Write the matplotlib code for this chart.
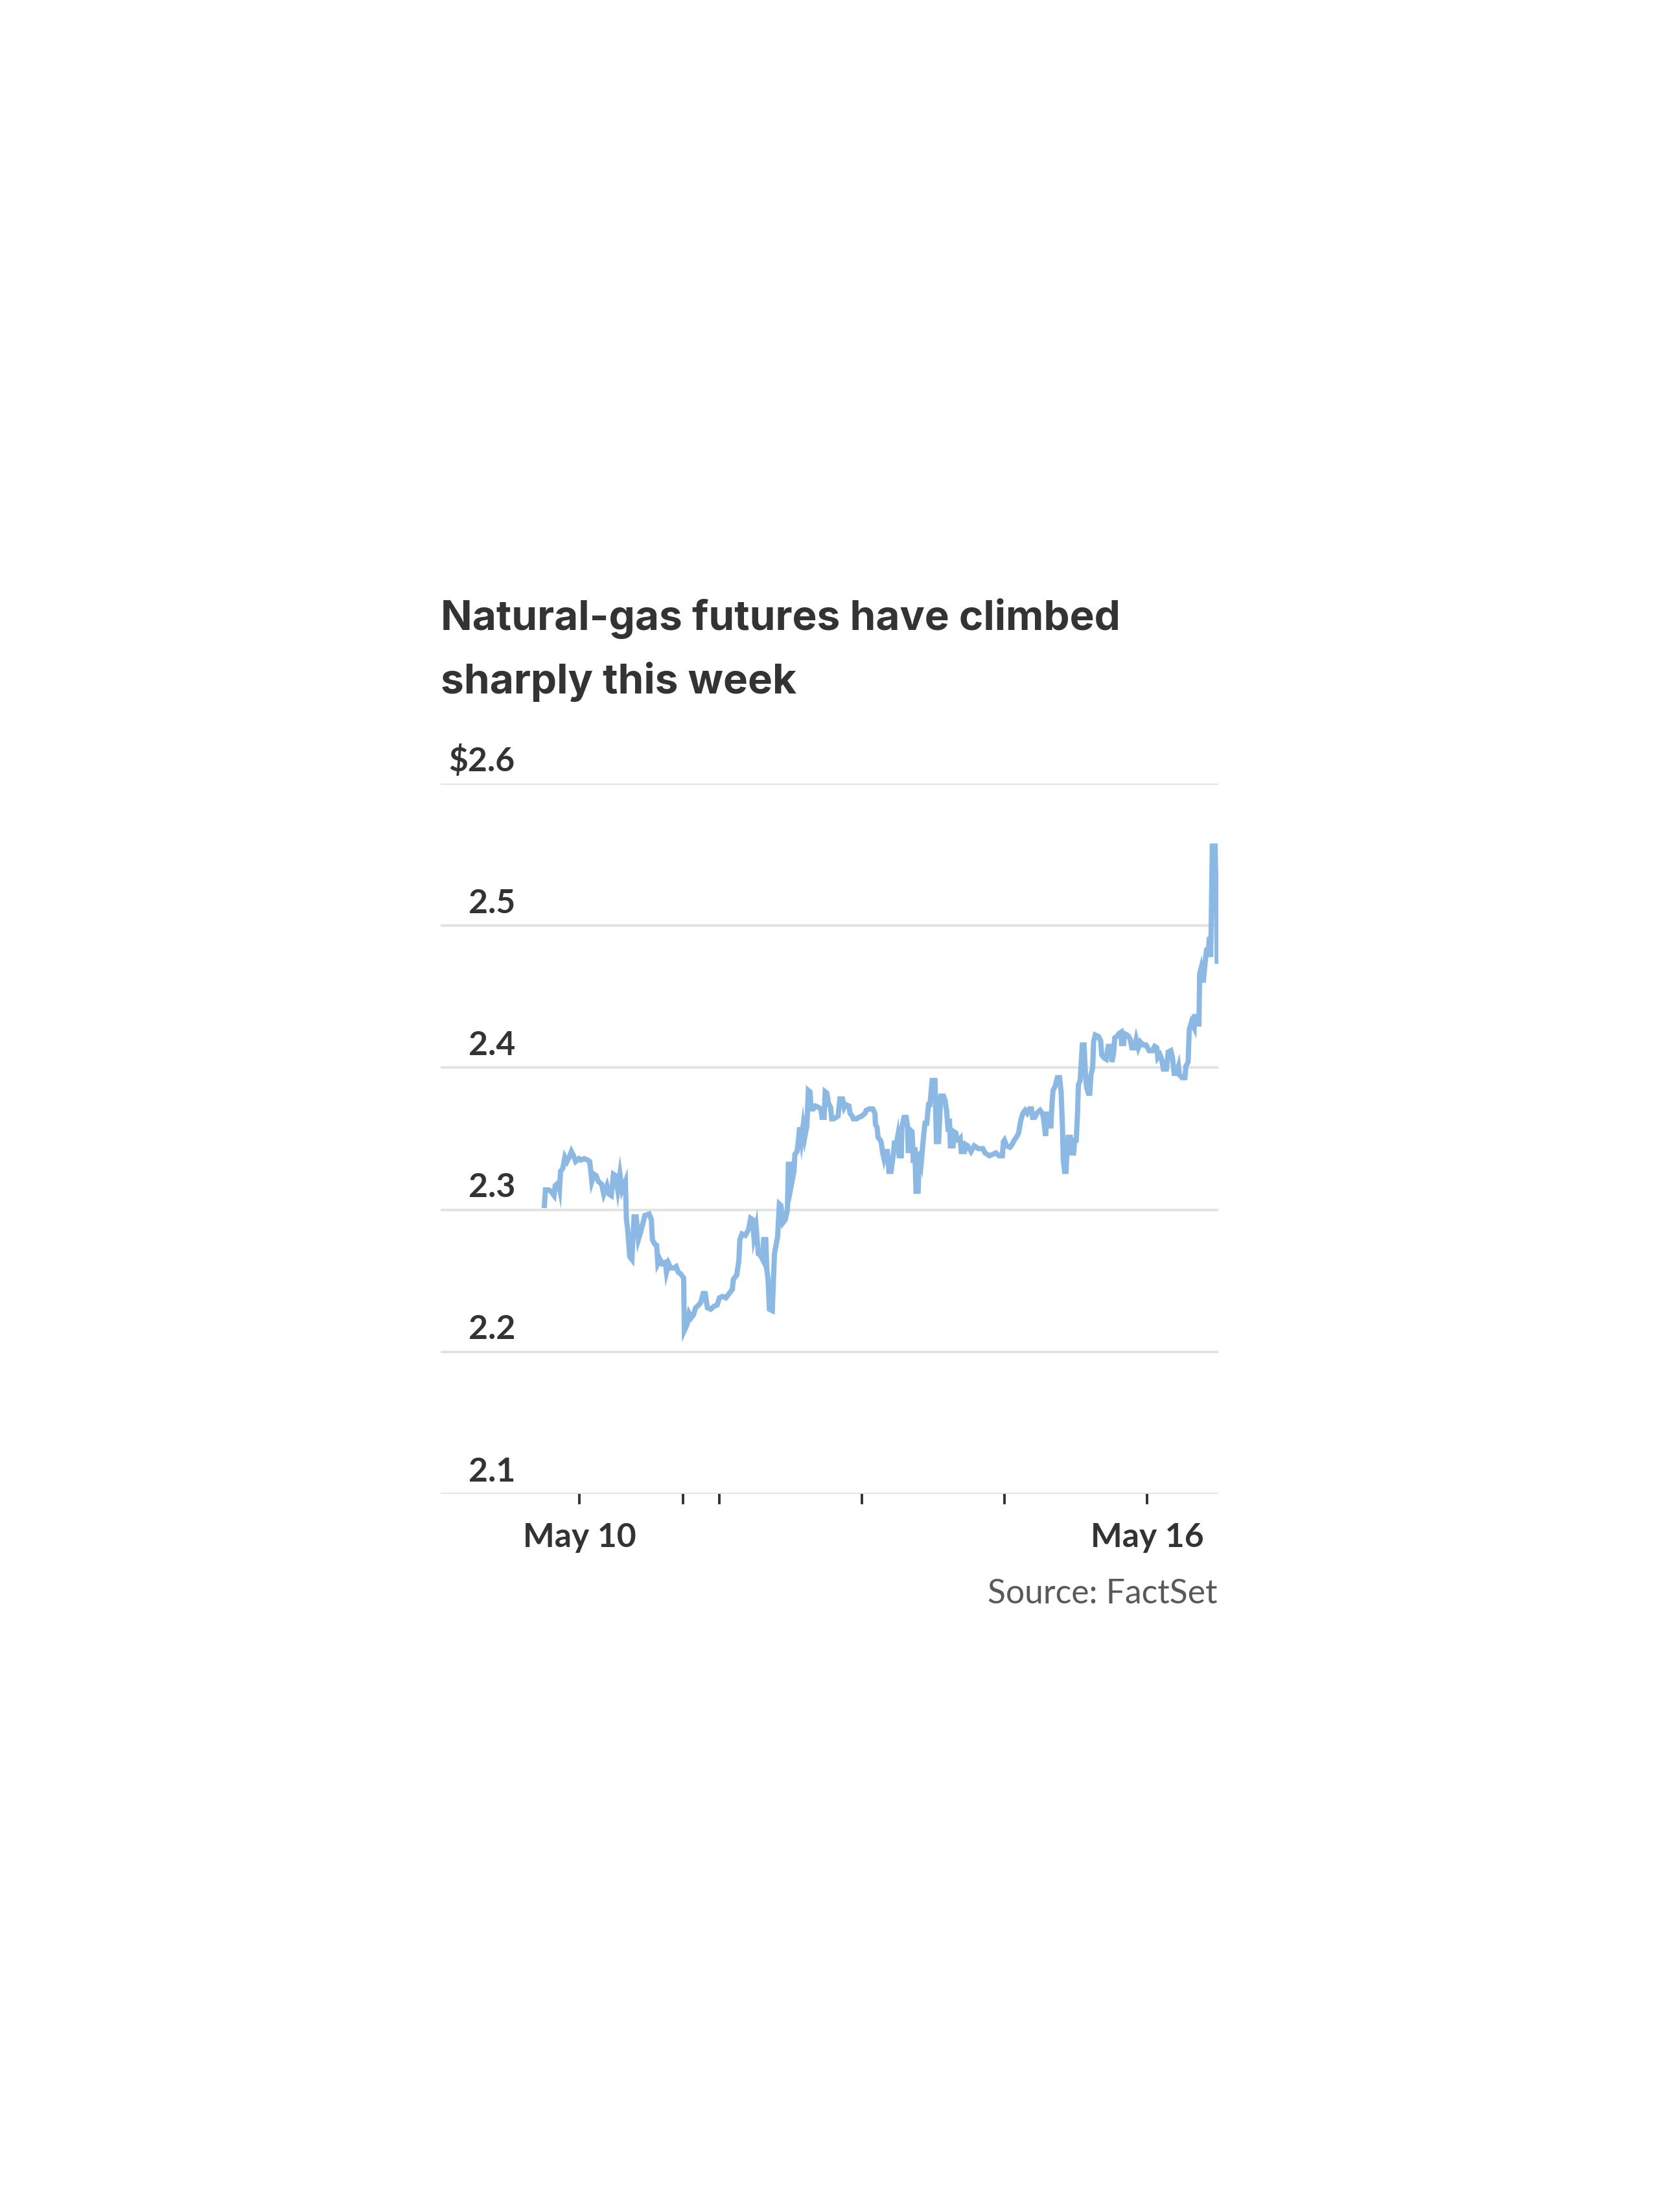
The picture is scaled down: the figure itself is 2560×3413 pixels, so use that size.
import numpy as np
import matplotlib.pyplot as plt

# x values are trading days from May 10 (weekend gap removed), y is $/MMBtu
days_fri = [-0.247, -0.240, -0.217, -0.202, -0.180, -0.172, -0.150, -0.142, -0.135, -0.120,
            -0.105, -0.090, -0.075, -0.060, -0.045, -0.030, -0.007, 0.007, 0.030, 0.052,
            0.067, 0.075, 0.082, 0.097, 0.112, 0.127, 0.150, 0.165, 0.187, 0.202,
            0.217, 0.232, 0.247, 0.262, 0.277, 0.292, 0.315, 0.322, 0.330, 0.345,
            0.360, 0.375, 0.390, 0.405, 0.420, 0.435, 0.450, 0.480, 0.495, 0.502,
            0.517, 0.532, 0.540, 0.555, 0.570, 0.592, 0.600, 0.615, 0.629, 0.652,
            0.667, 0.682, 0.697, 0.719, 0.724, 0.742, 0.757, 0.772, 0.787, 0.802,
            0.824, 0.839, 0.854, 0.869, 0.884, 0.907, 0.929, 0.952, 0.967, 0.989,
            1.012, 1.034, 1.042, 1.057, 1.064, 1.087, 1.102, 1.109, 1.124]
price_fri = [2.303, 2.314, 2.314, 2.313, 2.310, 2.317, 2.319, 2.315, 2.327, 2.329,
             2.337, 2.334, 2.337, 2.341, 2.338, 2.334, 2.336, 2.335, 2.336, 2.335,
             2.334, 2.327, 2.320, 2.325, 2.324, 2.320, 2.318, 2.311, 2.317, 2.311,
             2.310, 2.325, 2.324, 2.314, 2.325, 2.314, 2.320, 2.293, 2.287, 2.267,
             2.265, 2.295, 2.295, 2.279, 2.284, 2.290, 2.296, 2.297, 2.293, 2.279,
             2.276, 2.275, 2.262, 2.265, 2.262, 2.263, 2.256, 2.262, 2.259, 2.259,
             2.260, 2.256, 2.255, 2.252, 2.215, 2.219, 2.227, 2.224, 2.226, 2.231,
             2.233, 2.235, 2.241, 2.241, 2.231, 2.230, 2.232, 2.233, 2.238, 2.239,
             2.238, 2.241, 2.242, 2.244, 2.251, 2.254, 2.264, 2.279, 2.283]

days_mon = [1.147, 1.169, 1.184, 1.199, 1.207, 1.222, 1.237, 1.252, 1.267, 1.274,
            1.289, 1.296, 1.304, 1.314, 1.334, 1.349, 1.371, 1.383, 1.394, 1.409,
            1.424, 1.439, 1.446, 1.461, 1.469, 1.484, 1.491, 1.506, 1.514, 1.524,
            1.536, 1.548, 1.559, 1.574, 1.584, 1.596, 1.604, 1.619, 1.634, 1.656,
            1.671, 1.679, 1.694, 1.701, 1.713, 1.724, 1.739, 1.746, 1.761, 1.776,
            1.791, 1.803, 1.821, 1.833, 1.844, 1.866, 1.873, 1.888, 1.896, 1.918,
            1.933, 1.956, 1.978, 1.986, 2.008, 2.031, 2.046, 2.050, 2.061, 2.068,
            2.083, 2.091, 2.098, 2.109, 2.121, 2.133, 2.143, 2.158, 2.173, 2.181,
            2.196, 2.203, 2.214, 2.229, 2.233, 2.248, 2.263, 2.271, 2.278, 2.293,
            2.304, 2.313, 2.323, 2.331, 2.346, 2.353, 2.368, 2.383, 2.394, 2.406,
            2.418, 2.428, 2.443, 2.463, 2.473, 2.488, 2.503, 2.522, 2.533, 2.543,
            2.555, 2.563, 2.570, 2.588, 2.593, 2.608, 2.615, 2.630, 2.638, 2.645,
            2.668, 2.675, 2.690, 2.713, 2.735]
price_mon = [2.282, 2.286, 2.294, 2.293, 2.281, 2.288, 2.269, 2.268, 2.265, 2.279,
             2.279, 2.258, 2.252, 2.230, 2.229, 2.269, 2.281, 2.304, 2.303, 2.291,
             2.293, 2.300, 2.332, 2.332, 2.319, 2.327, 2.339, 2.341, 2.348, 2.358,
             2.349, 2.359, 2.351, 2.359, 2.384, 2.383, 2.371, 2.371, 2.373, 2.372,
             2.371, 2.365, 2.365, 2.383, 2.382, 2.375, 2.372, 2.364, 2.364, 2.365,
             2.366, 2.378, 2.378, 2.372, 2.374, 2.373, 2.368, 2.366, 2.364, 2.364,
             2.365, 2.366, 2.368, 2.370, 2.371, 2.371, 2.368, 2.360, 2.358, 2.351,
             2.349, 2.347, 2.341, 2.336, 2.341, 2.341, 2.327, 2.327, 2.338, 2.347,
             2.347, 2.351, 2.338, 2.338, 2.358, 2.365, 2.365, 2.360, 2.340, 2.356,
             2.355, 2.333, 2.344, 2.313, 2.313, 2.341, 2.334, 2.351, 2.361, 2.361,
             2.374, 2.374, 2.391, 2.391, 2.348, 2.348, 2.380, 2.380, 2.377, 2.370,
             2.355, 2.364, 2.345, 2.345, 2.355, 2.354, 2.349, 2.349, 2.350, 2.341,
             2.341, 2.346, 2.345, 2.341, 2.345]

days_wed = [2.765, 2.795, 2.810, 2.840, 2.863, 2.885, 2.908, 2.930, 2.938, 2.945,
            2.960, 2.983, 2.998, 3.013, 3.028, 3.043, 3.058, 3.073, 3.088, 3.103,
            3.118, 3.132, 3.140, 3.155, 3.170, 3.192, 3.207, 3.215, 3.230, 3.242,
            3.252, 3.267, 3.275, 3.282, 3.297, 3.312, 3.327, 3.338, 3.347, 3.353,
            3.362, 3.372, 3.380, 3.387, 3.402, 3.410, 3.425, 3.432, 3.443, 3.452,
            3.458, 3.470, 3.485, 3.497, 3.507, 3.515, 3.527, 3.537, 3.545, 3.557,
            3.563, 3.575, 3.597, 3.612, 3.620, 3.635, 3.650]
price_wed = [2.343, 2.343, 2.340, 2.338, 2.339, 2.340, 2.338, 2.338, 2.348, 2.349,
             2.345, 2.344, 2.346, 2.349, 2.351, 2.354, 2.363, 2.368, 2.370, 2.368,
             2.371, 2.371, 2.365, 2.365, 2.368, 2.370, 2.368, 2.365, 2.352, 2.369,
             2.359, 2.359, 2.375, 2.384, 2.387, 2.393, 2.393, 2.383, 2.359, 2.335,
             2.327, 2.327, 2.343, 2.351, 2.351, 2.340, 2.340, 2.349, 2.349, 2.368,
             2.388, 2.391, 2.416, 2.416, 2.395, 2.386, 2.382, 2.382, 2.395, 2.400,
             2.418, 2.423, 2.422, 2.419, 2.409, 2.407, 2.406]

days_thu = [3.665, 3.687, 3.689, 3.702, 3.710, 3.725, 3.739, 3.754, 3.757, 3.772,
            3.777, 3.796, 3.807, 3.817, 3.829, 3.847, 3.859, 3.874, 3.889, 3.907,
            3.927, 3.949, 3.972, 3.987, 4.002, 4.009, 4.024, 4.036, 4.047, 4.069,
            4.081, 4.099, 4.111, 4.122, 4.137, 4.152, 4.159, 4.177, 4.197, 4.204,
            4.219, 4.227, 4.242, 4.261, 4.264, 4.287, 4.294, 4.299, 4.309, 4.324,
            4.336, 4.347, 4.362, 4.366, 4.376, 4.387, 4.406, 4.417, 4.421]
price_thu = [2.415, 2.415, 2.404, 2.410, 2.421, 2.422, 2.424, 2.425, 2.417, 2.417,
             2.424, 2.423, 2.422, 2.420, 2.414, 2.414, 2.420, 2.414, 2.418, 2.416,
             2.416, 2.412, 2.412, 2.415, 2.414, 2.407, 2.409, 2.406, 2.399, 2.399,
             2.411, 2.412, 2.407, 2.396, 2.396, 2.401, 2.395, 2.393, 2.393, 2.401,
             2.404, 2.427, 2.432, 2.428, 2.436, 2.436, 2.429, 2.466, 2.470, 2.460,
             2.473, 2.483, 2.484, 2.492, 2.478, 2.556, 2.556, 2.508, 2.475]

y_ticks = [2.1, 2.2, 2.3, 2.4, 2.5, 2.6]
y_labels = ["2.1", "2.2", "2.3", "2.4", "2.5", "$2.6"]
x_ticks = [-0.004, 0.715, 0.967, 1.956, 2.945, 3.934]
x_labels = ["May 10", "", "", "", "", "May 16"]

title_lines = ["Natural-gas futures have climbed", "sharply this week"]
source = "Source: FactSet"

days = np.concatenate([days_fri, days_mon, days_wed, days_thu])
price = np.concatenate([price_fri, price_mon, price_wed, price_thu])

dark = "#333333"
plt.rcParams["font.family"] = ["Lato", "DejaVu Sans"]

fig = plt.figure(figsize=(12.8, 17.065), dpi=200)
ax = fig.add_axes([0.2656, 0.32464, 0.4688, 0.32113])

for yv in y_ticks:
    ax.axhline(yv, color="#e3e3e3", lw=1.4, zorder=1)

ax.plot(days, price, color="#8cb9e3", lw=2.9, solid_joinstyle="miter", zorder=3)

ax.set_xlim(-0.967, 4.429)
ax.set_ylim(2.1, 2.6)
for s in ax.spines.values():
    s.set_visible(False)
ax.set_yticks([])
ax.set_xticks(x_ticks)
ax.set_xticklabels([])
ax.tick_params(axis="x", length=5.8, width=1.4, color=dark, direction="out")

for yv, lab in zip(y_ticks, y_labels):
    ax.annotate(lab, xy=(0.0958, yv), xycoords=("axes fraction", "data"),
                xytext=(0, 7), textcoords="offset points",
                ha="right", va="baseline", fontsize=18.6, fontweight="bold", color=dark)

for xv, lab in zip(x_ticks, x_labels):
    if lab:
        ax.annotate(lab, xy=(xv, 2.1), xycoords="data",
                    xytext=(0, -29.5), textcoords="offset points",
                    ha="center", va="baseline", fontsize=18.6, fontweight="bold", color=dark)

title_font = ["Inter", "Lato", "DejaVu Sans"]
fig.text(0.2656, 0.71521, title_lines[0], ha="left", va="baseline", family=title_font,
         fontsize=23.0, fontweight="bold", color=dark)
fig.text(0.2656, 0.68649, title_lines[1], ha="left", va="baseline", family=title_font,
         fontsize=23.0, fontweight="bold", color=dark)
fig.text(0.7336, 0.27512, source, ha="right", va="baseline", fontsize=18.6, color="#595959")

fig.savefig("out.png", dpi=200, facecolor="white")
